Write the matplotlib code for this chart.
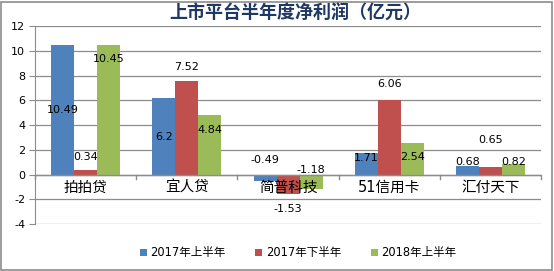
import matplotlib

matplotlib.use("Agg")
import matplotlib.pyplot as plt
import numpy as np

plt.rcParams["font.family"] = ["DejaVu Sans", "Noto Sans CJK SC"]
plt.rcParams["axes.unicode_minus"] = False

categorias = ["拍拍贷", "宜人贷", "简普科技", "51信用卡", "汇付天下"]
series = ["2017年上半年", "2017年下半年", "2018年上半年"]
h1_2017 = [10.49, 6.2, -0.49, 1.71, 0.68]
h2_2017 = [0.34, 7.52, -1.53, 6.06, 0.65]
h1_2018 = [10.45, 4.84, -1.18, 2.54, 0.82]
# altura (em unidades do eixo) onde cada rotulo foi deixado no grafico original
rot_h1_2017 = [5.25, 3.0, 1.2, 1.3, 1.05]
rot_h2_2017 = [1.45, 8.65, -2.75, 7.3, 2.8]
rot_h1_2018 = [9.3, 3.6, 0.4, 1.4, 1.05]
yticks = [-4, -2, 0, 2, 4, 6, 8, 10, 12]

cores = ["#4F81BD", "#C0504D", "#9BBB59"]
valores = [h1_2017, h2_2017, h1_2018]
rotulos = [rot_h1_2017, rot_h2_2017, rot_h1_2018]

fig = plt.figure(figsize=(5.54, 2.71), dpi=100)
fig.patches.append(plt.Rectangle((0.002, 0.004), 0.995, 0.99, transform=fig.transFigure,
                                 fill=False, edgecolor="#8c8c8c", linewidth=1.2))
ax = fig.add_axes([0.063, 0.173, 0.914, 0.731])

x = np.arange(len(categorias))
larg = 0.227
for i, (vals, rot, cor, nome) in enumerate(zip(valores, rotulos, cores, series)):
    pos = x + (i - 1) * larg
    ax.bar(pos, vals, width=larg, color=cor, label=nome, zorder=3)
    for px, v, ry in zip(pos, vals, rot):
        ax.text(px, ry, f"{v:g}", ha="center", va="center", fontsize=8,
                color="#000000", zorder=4)

ax.set_xlim(-0.5, len(categorias) - 0.5)
ax.set_ylim(-4, 12)
ax.set_yticks(yticks)
ax.set_yticklabels([str(t) for t in yticks], fontsize=8)
ax.yaxis.grid(True, color="#8c8c8c", linewidth=0.9, zorder=0)
ax.set_xticks([])
for s in ["top", "right", "bottom"]:
    ax.spines[s].set_visible(False)
ax.spines["left"].set_color("#8c8c8c")
ax.tick_params(axis="y", length=4, color="#8c8c8c", pad=3)

# eixo das categorias na linha do zero, estilo Excel
ax.axhline(0, color="#8c8c8c", linewidth=1.0, zorder=5)
for b in np.arange(-0.5, len(categorias), 1.0):
    ax.plot([b, b], [0, -0.35], color="#8c8c8c", linewidth=1.0, zorder=5, clip_on=False)
for xc, c in zip(x, categorias):
    ax.text(xc, -0.45, c, ha="center", va="top", fontsize=10.5, zorder=5)

fig.text(0.533, 0.95, "上市平台半年度净利润（亿元）", ha="center", va="center",
         fontsize=13, fontweight="bold", color="#1F3864",
         family=["Noto Sans CJK SC", "DejaVu Sans"])

ax.legend(loc="upper center", bbox_to_anchor=(0.52, -0.06), ncol=3, frameon=False,
          fontsize=8.3, handlelength=0.6, handleheight=0.6, handletextpad=0.3,
          columnspacing=2.6)

fig.savefig("out.png", dpi=100)
plt.close(fig)
